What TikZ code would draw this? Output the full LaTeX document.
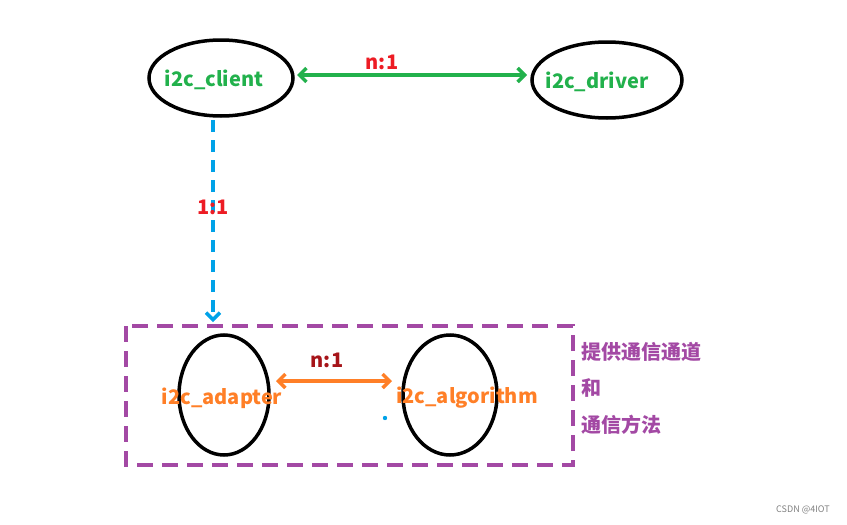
\documentclass[tikz,border=0pt]{standalone}
\usepackage{fontspec}
\setmainfont{Noto Sans CJK SC}
\usetikzlibrary{shapes.geometric,arrows.meta}
\definecolor{gr}{RGB}{34,177,76}
\definecolor{bl}{RGB}{0,162,232}
\definecolor{rd}{RGB}{237,28,36}
\definecolor{og}{RGB}{255,127,39}
\definecolor{pu}{RGB}{163,73,164}
\begin{document}
\begin{tikzpicture}[x=1pt,y=-1pt,
  ell/.style={draw=black,line width=3.5pt,ellipse,inner sep=0pt},
  lbl/.style={font=\fontsize{20}{23}\selectfont\bfseries},
  arr/.style={line width=3.5pt,{Straight Barb[length=7pt,width=14pt]}-{Straight Barb[length=7pt,width=14pt]}}]
\useasboundingbox (0,0) rectangle (847,525);
\node[ell,minimum width=144pt,minimum height=76pt] (client) at (221,78) {};
\node[ell,minimum width=150pt,minimum height=76pt] (driver) at (607,80) {};
\node[ell,minimum width=90pt,minimum height=120pt] (adapter) at (224,395) {};
\node[ell,minimum width=94pt,minimum height=120pt] (algo) at (450,395) {};
\node[lbl,text=gr] at (214,80) {i2c\_client};
\node[lbl,text=gr] at (597,82) {i2c\_driver};
\node[lbl,text=og] at (222,398) {i2c\_adapter};
\node[lbl,text=og] at (467,398) {i2c\_algorithm};
\coordinate (g1) at (297,75); \coordinate (g2) at (527,75);
\draw[arr,draw=gr] (g1) -- (g2);
\node[lbl,text=rd] (n1) at (382,62) {n:1};
\coordinate (b1) at (213,120); \coordinate (b2) at (213,322);
\draw[line width=3.5pt,draw=bl,dash pattern=on 12pt off 8pt,-{Straight Barb[length=7pt,width=14pt]}] (b1) -- (b2);
\node[lbl,text=rd] (one) at (213,207) {1:1};
\coordinate (o1) at (276,381); \coordinate (o2) at (392,381);
\draw[arr,draw=og] (o1) -- (o2);
\node[lbl,text=rd!70!black] (n2) at (327,360) {n:1};
\draw[pu,line width=3.5pt,dash pattern=on 16pt off 9pt] (126,326) rectangle (573,465);
\node[lbl,text=pu,anchor=west] (t1) at (578,352) {提供通信通道};
\node[lbl,text=pu,anchor=west] (t2) at (578,388) {和};
\node[lbl,text=pu,anchor=west] (t3) at (578,425) {通信方法};
\fill[bl] (385,418) circle (2.2pt);
\node[text=gray,font=\fontsize{9}{10}\selectfont] (wm) at (803,510) {CSDN @4IOT};
\end{tikzpicture}
\end{document}
